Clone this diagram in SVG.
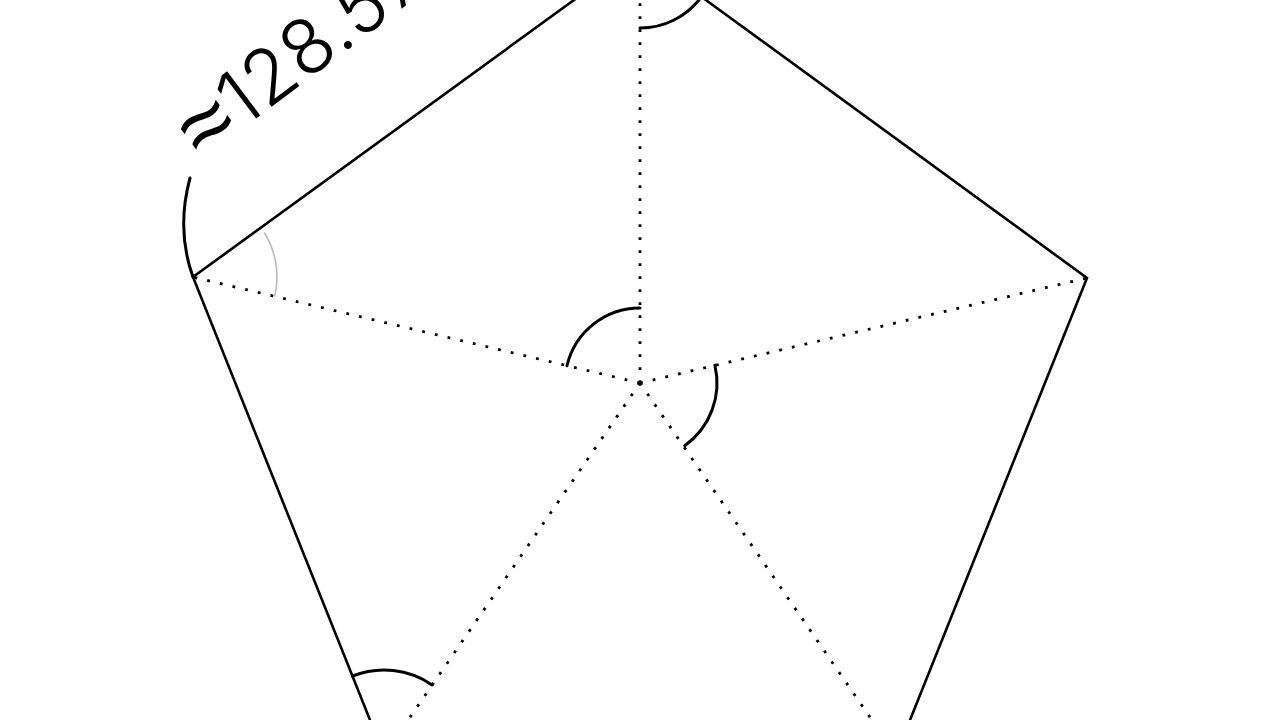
<svg xmlns="http://www.w3.org/2000/svg" width="1280" height="720" viewBox="0 0 1280 720">
<style>
.edge{fill:none;stroke:#000;stroke-width:2.6;stroke-linejoin:miter}
.dot{fill:none;stroke:#000;stroke-width:2.8;stroke-dasharray:2.8 10.2}
.arc{fill:none;stroke:#000;stroke-width:3;stroke-linecap:round}
.garc{fill:none;stroke:#bbb;stroke-width:1.6}
.lbl{font-family:Inter,"Liberation Sans",sans-serif;font-weight:300;font-size:76px;fill:#000;letter-spacing:1px}
.sym{font-family:"Liberation Sans",sans-serif;font-weight:400;font-size:92px}
</style>
<rect width="1280" height="720" fill="#fff"/>
<g id="pentagon">
<polygon class="edge" points="640,-48 1087,278 896,755 384,755 193,277"/>
</g>
<g id="connectors">
<line class="dot" x1="640" y1="383" x2="640" y2="-48"/>
<line class="dot" x1="640" y1="383" x2="1087" y2="278"/>
<line class="dot" x1="640" y1="383" x2="896" y2="755"/>
<line class="dot" x1="640" y1="383" x2="384" y2="755"/>
<line class="dot" x1="640" y1="383" x2="193" y2="277"/>
</g>
<g id="angles">
<path class="arc" d="M640 28 A76 76 0 0 0 701.5 -3.3"/>
<path class="arc" d="M640 308 A75 75 0 0 0 567 365.7"/>
<path class="arc" d="M714.9 365.3 A77 77 0 0 1 684.7 445.7"/>
<path class="arc" d="M352.4 676.1 A85 85 0 0 1 432.1 684.9"/>
<path class="garc" d="M264.2 232.5 A84 84 0 0 1 274.7 296.4"/>
<path class="arc" d="M190 178 Q176 230 193 277"/>
</g>
<g id="label">
<text class="lbl" transform="translate(201 160) rotate(-37)"><tspan class="sym" dy="5">≈</tspan><tspan dy="-5">128.57°</tspan></text>
</g>
</svg>
